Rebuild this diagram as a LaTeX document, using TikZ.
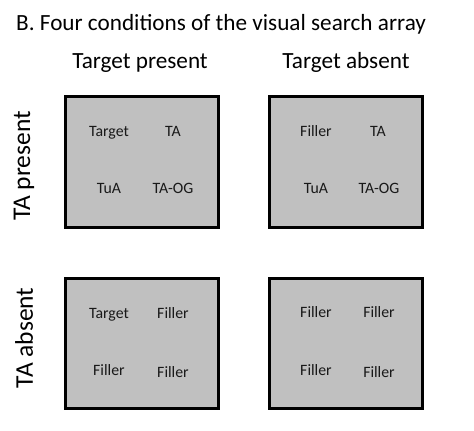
\documentclass[tikz,border=0pt]{standalone}
\usepackage{fontspec}
\setmainfont{Carlito}
\begin{document}
\begin{tikzpicture}[x=1pt,y=-1pt,
  panel/.style={draw=black,line width=3pt,fill=panelgray},
  item/.style={font=\fontsize{15.8}{18}\selectfont,text=black!90,inner sep=0pt,anchor=base},
  header/.style={font=\fontsize{23.2}{27}\selectfont,inner sep=0pt},
  rowlabel/.style={font=\fontsize{25.5}{30}\selectfont,inner sep=0pt,rotate=90}]
\definecolor{panelgray}{RGB}{192,192,192}
\useasboundingbox (0,0) rectangle (474,431);
% title and column/row labels
\node[header,anchor=base west] (title) at (16,30) {B. Four conditions of the visual search array};
\node[header,anchor=base] (colP) at (140,68) {Target present};
\node[header,anchor=base] (colA) at (346,68) {Target absent};
\node[rowlabel] (rowP) at (24,166) {TA present};
\node[rowlabel] (rowA) at (24,338) {TA absent};
% four search arrays
\draw[panel] (65,96) rectangle (218,227);
\draw[panel] (269,96) rectangle (422,227);
\draw[panel] (65,278) rectangle (218,408);
\draw[panel] (269,278) rectangle (422,408);
% TA present, target present
\node[item] (a1) at (109,136) {Target};
\node[item] (a2) at (173,136) {TA};
\node[item] (a3) at (109,193) {TuA};
\node[item] (a4) at (173,193) {TA-OG};
% TA present, target absent
\node[item] (b1) at (316,136) {Filler};
\node[item] (b2) at (378,136) {TA};
\node[item] (b3) at (316,193) {TuA};
\node[item] (b4) at (379,193) {TA-OG};
% TA absent, target present
\node[item] (c1) at (109,318) {Target};
\node[item] (c2) at (173,318) {Filler};
\node[item] (c3) at (109,375) {Filler};
\node[item] (c4) at (173,377) {Filler};
% TA absent, target absent
\node[item] (d1) at (316,317) {Filler};
\node[item] (d2) at (379,317) {Filler};
\node[item] (d3) at (316,375) {Filler};
\node[item] (d4) at (379,377) {Filler};
\end{tikzpicture}
\end{document}
